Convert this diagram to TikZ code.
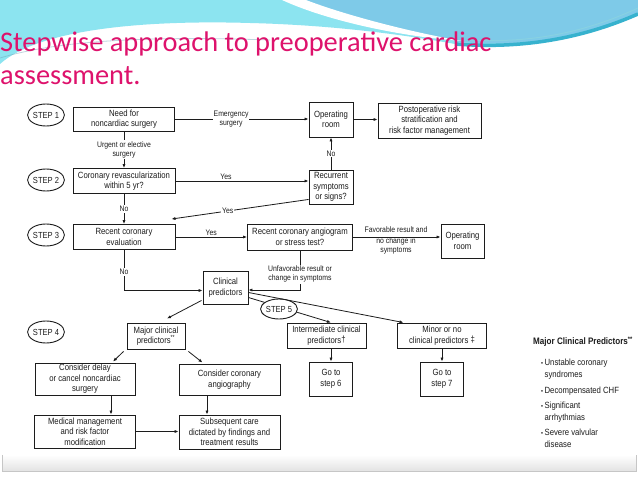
\documentclass[tikz,border=0pt]{standalone}
\usepackage{fontspec}
\usetikzlibrary{arrows.meta,shapes.geometric,calc}
\newfontfamily\titlefont{Carlito}
\newfontfamily\dfont[FakeStretch=0.86]{Liberation Sans}
\definecolor{titlepink}{RGB}{222,18,108}
\definecolor{cyanbg}{RGB}{140,228,240}
\definecolor{bluebg}{RGB}{126,202,232}
\definecolor{tealbg}{RGB}{55,178,206}
\definecolor{ink}{RGB}{28,28,28}
\newcommand{\bdot}{\raisebox{0.6pt}{\fontsize{6.5}{6.5}\selectfont •}\,}
\begin{document}
\begin{tikzpicture}[x=1pt,y=-1pt,
  bx/.style={draw=ink, line width=0.9pt, fill=white, align=center, inner sep=0pt,
    font=\dfont\fontsize{9}{10.5}\selectfont, text=ink},
  stepel/.style={ellipse, draw=ink, line width=0.9pt, fill=white, inner sep=0pt,
    minimum width=32pt, minimum height=22pt, font=\dfont\fontsize{8.8}{10}\selectfont, text=ink},
  lbl/.style={font=\dfont\fontsize{8}{9.2}\selectfont, align=center, text=ink, inner sep=1pt},
  lblw/.style={lbl, fill=white},
  conn/.style={draw=ink, line width=0.8pt},
  arr/.style={conn, -{Latex[length=4pt,width=3.2pt]}},
  bul/.style={anchor=base west, inner sep=0pt, text=ink, font=\dfont\fontsize{9}{12}\selectfont},
]
\useasboundingbox (0,0) rectangle (638,478);
\fill[white] (0,0) rectangle (638,478);
% --- top decoration
\fill[cyanbg] (0,0) -- (638,0) -- (638,14) .. controls (590,35) and (530,50) .. (455,44)
  .. controls (400,34) and (330,25) .. (250,23) .. controls (150,20) and (40,28) .. (0,64) -- cycle;
\fill[bluebg] (300,0) -- (638,0) -- (638,14) .. controls (590,35) and (530,48) .. (460,42)
  .. controls (400,30) and (340,14) .. (300,0) -- cycle;
\fill[white] (282,0) -- (306,0) .. controls (345,15) and (410,32) .. (462,41)
  .. controls (405,37) and (330,22) .. (282,0) -- cycle;
\draw[tealbg, line width=3.5pt] (455,44) .. controls (530,50) and (590,35) .. (638,14);
\draw[tealbg!60, line width=1pt] (470,40) .. controls (540,44) and (595,28) .. (638,8);
\draw[gray!60!cyan, opacity=0.45, line width=0.8pt] (0,58) .. controls (60,40) and (150,36) .. (270,40);
% --- title
\node[anchor=base west, inner sep=0pt, text=titlepink, font=\titlefont\fontsize{28.4}{32}\selectfont] (t1) at (0,52) {Stepwise approach to preoperative cardiac};
\node[anchor=base west, inner sep=0pt, text=titlepink, font=\titlefont\fontsize{28.4}{32}\selectfont] (t2) at (0,85) {assessment.};
% --- bottom band
\shade[top color=white, bottom color=gray!22] (2,455) rectangle (636,471);
\draw[gray!45, line width=0.6pt] (2,455) -- (2,471) -- (636,471) -- (636,455);
% --- step ellipses
\node[stepel] (s1) at (46,115) {STEP 1};
\node[stepel] (s2) at (46,180) {STEP 2};
\node[stepel] (s3) at (46,235) {STEP 3};
\node[stepel] (s4) at (46,332) {STEP 4};
% --- boxes
\node[bx, minimum width=101pt, minimum height=24pt] (need) at (124,119) {Need for\\noncardiac surgery};
\node[bx, minimum width=44pt, minimum height=35pt] (op1) at (331,119.5) {Operating\\room};
\node[bx, minimum width=103pt, minimum height=35pt] (postop) at (429.5,120.5) {Postoperative risk\\stratification and\\risk factor management};
\node[bx, minimum width=102pt, minimum height=25pt] (revasc) at (124,181) {Coronary revascularization\\within 5 yr?};
\node[bx, minimum width=44pt, minimum height=34pt] (recur) at (331,187) {Recurrent\\symptoms\\or signs?};
\node[bx, minimum width=102pt, minimum height=25pt] (recent) at (124,237) {Recent coronary\\evaluation};
\node[bx, minimum width=105pt, minimum height=26pt] (angio) at (300,237) {Recent coronary angiogram\\or stress test?};
\node[bx, minimum width=43pt, minimum height=34pt] (op2) at (462.5,241) {Operating\\room};
\node[bx, minimum width=45pt, minimum height=33pt] (clin) at (225.5,287.5) {Clinical\\predictors};
\node[bx, minimum width=58pt, minimum height=26pt] (major) at (156,336) {Major clinical\\predictors\textsuperscript{**}};
\node[bx, minimum width=79pt, minimum height=25pt] (inter) at (326.5,335.5) {Intermediate clinical\\predictors\raisebox{1pt}{†}};
\node[bx, minimum width=89pt, minimum height=25pt] (minor) at (442,335.5) {Minor or no\\clinical predictors \raisebox{1pt}{‡}};
\node[bx, minimum width=100pt, minimum height=32pt] (delay) at (85,379) {Consider delay\\or cancel noncardiac\\surgery};
\node[bx, minimum width=101pt, minimum height=31pt] (cangio) at (229.5,379.5) {Consider coronary\\angiography};
\node[bx, minimum width=43pt, minimum height=34pt] (step6) at (331,379) {Go to\\step 6};
\node[bx, minimum width=43pt, minimum height=34pt] (step7) at (442,379) {Go to\\step 7};
\node[bx, minimum width=101pt, minimum height=33pt] (medical) at (85,431.5) {Medical management\\and risk factor\\modification};
\node[bx, minimum width=101pt, minimum height=34pt] (subseq) at (229.5,432) {Subsequent care\\dictated by findings and\\treatment results};
% --- connectors
\draw[arr] (need.east) -- node[lblw, pos=0.42] {Emergency\\surgery} (need.east -| op1.west);
\draw[arr] (op1.east) -- (op1.east -| postop.west);
\draw[arr] (need.south) -- node[lblw] {Urgent or elective\\surgery} (revasc.north);
\draw[arr] (revasc.east) -- node[lbl, above, pos=0.38] {Yes} (revasc.east -| recur.west);
\draw[arr] (recur.north) -- node[lblw] {No} (op1.south);
\draw[arr] (revasc.south) -- node[lblw] {No} (recent.north);
\draw[arr] ($(recur.south west)+(0,-5)$) -- node[lblw, pos=0.59] {Yes} ($(recent.north east)+(-4,-5)$);
\draw[arr] (recent.east) -- node[lbl, above, pos=0.5] {Yes} (recent.east -| angio.west);
\draw[arr] (angio.east) -- (angio.east -| op2.west);
\node[lbl, anchor=north] (fav) at (396,225.5) {Favorable result and\\[2pt]no change in\\symptoms};
\draw[arr] (recent.south) |- node[lblw, pos=0.27] {No} ($(clin.west)+(0,3)$);
\draw[arr] (angio.south) |- node[lblw, pos=0.3] {Unfavorable result or\\change in symptoms} ($(clin.east)+(0,2.5)$);
\draw[arr] ($(clin.east)+(0,10)$) -- ($(inter.north)+(4.5,0)$);
\node[stepel, minimum width=33pt, minimum height=20pt] (s5) at (279,309) {STEP 5};
\draw[arr] ($(clin.east)+(0,5)$) -- ($(minor.north)+(-38.5,0)$);
\draw[arr] ($(clin.south west)+(-1,-4)$) -- ($(major.north)+(11,-4)$);
\draw[arr] ($(major.south west)+(-3,2)$) -- ($(delay.north)+(28,-1)$);
\draw[arr] ($(major.south east)+(3,2)$) -- ($(cangio.north)+(-27,-1)$);
\draw[arr] ($(inter.south)+(4.5,0)$) -- (step6.north);
\draw[arr] (minor.south) -- (step7.north);
\draw[arr] ($(delay.south)+(26,0)$) -- ($(medical.north)+(26,0)$);
\draw[arr] ($(cangio.south)+(-22.5,0)$) -- ($(subseq.north)+(-22.5,0)$);
\draw[arr] (medical.east) -- (medical.east -| subseq.west);
% --- right panel
\node[anchor=base west, inner sep=0pt, text=ink, font=\dfont\bfseries\fontsize{9.4}{10}\selectfont] (mcp) at (533,345) {Major Clinical Predictors\textsuperscript{**}};
\node[bul] (b1) at (541,366) {\begin{tabular}[t]{@{}l@{}}\bdot Unstable coronary\\\hphantom{\bdot }syndromes\end{tabular}};
\node[bul] (b2) at (541,394) {\begin{tabular}[t]{@{}l@{}}\bdot Decompensated CHF\end{tabular}};
\node[bul] (b3) at (541,409) {\begin{tabular}[t]{@{}l@{}}\bdot Significant\\\hphantom{\bdot }arrhythmias\end{tabular}};
\node[bul] (b4) at (541,436) {\begin{tabular}[t]{@{}l@{}}\bdot Severe valvular\\\hphantom{\bdot }disease\end{tabular}};
\end{tikzpicture}
\end{document}
